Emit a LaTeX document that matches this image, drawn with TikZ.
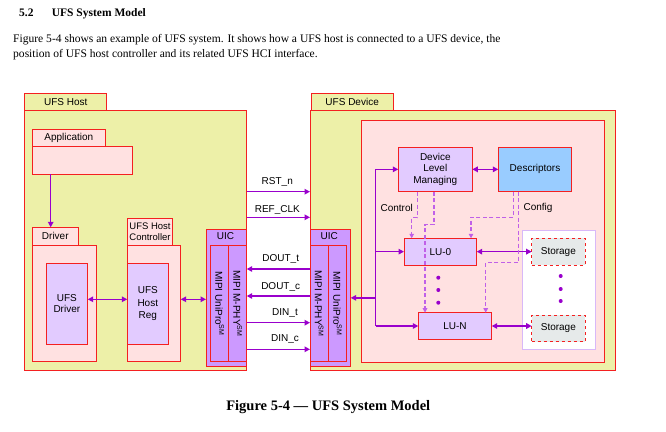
\documentclass[tikz,border=0pt]{standalone}
\usepackage{fontspec}
\setmainfont{Liberation Serif}
\setsansfont{Liberation Sans}
\usetikzlibrary{arrows.meta,calc}
\definecolor{yel}{HTML}{EDF0A8}
\definecolor{pinkb}{HTML}{FFE1E1}
\definecolor{lav}{HTML}{E2CBFF}
\definecolor{uicc}{HTML}{CC99FF}
\definecolor{descc}{HTML}{99CCFF}
\definecolor{storc}{HTML}{E6EAEA}
\definecolor{purp}{HTML}{9900CC}
\definecolor{purpL}{HTML}{C060E8}
\definecolor{redb}{HTML}{F42020}
\definecolor{panelb}{HTML}{D8B8F8}
\tikzset{
 bx/.style={draw=redb, line width=0.9pt, anchor=north west, inner sep=0pt, outer sep=0pt,
   font=\sffamily\fontsize{10}{11.5}\selectfont, align=center, text=black},
 arr/.style={draw=purp, line width=1.4pt, -{Triangle[length=5.5pt,width=5.5pt]}},
 darr/.style={draw=purp, line width=1.4pt, {Triangle[length=5.5pt,width=5.5pt]}-{Triangle[length=5.5pt,width=5.5pt]}},
 pline/.style={draw=purp, line width=1.4pt},
 dsh/.style={draw=purpL, line width=1.2pt, dash pattern=on 4pt off 2.5pt, -{Triangle[length=4.5pt,width=4.5pt]}},
 lbl/.style={font=\sffamily\fontsize{10}{11.5}\selectfont, inner sep=0pt, text=black},
 pdot/.style={circle, fill=purp, inner sep=0pt, minimum size=4pt},
}
\begin{document}
\begin{tikzpicture}[x=1pt,y=-1pt]
\useasboundingbox[fill=white] (0,0) rectangle (666,431);

% heading and text
\node[anchor=base west, font=\bfseries\fontsize{11.5}{14}\selectfont, inner sep=0pt] (h52) at (19,16.7) {5.2};
\node[anchor=base west, font=\bfseries\fontsize{11.5}{14}\selectfont, inner sep=0pt] (htitle) at (51.7,16.7) {UFS System Model};
\node[anchor=base west, font=\fontsize{11.55}{14}\selectfont, inner sep=0pt] (p1) at (13,42.7) {Figure 5-4 shows an example of UFS system. It shows how a UFS host is connected to a UFS device, the};
\node[anchor=base west, font=\fontsize{11.55}{14}\selectfont, inner sep=0pt] (p2) at (13,57.3) {position of UFS host controller and its related UFS HCI interface.};
\node[anchor=base, font=\bfseries\fontsize{14.5}{17}\selectfont, inner sep=0pt] (cap) at (328.3,410) {Figure 5-4 --- UFS System Model};

% ---------- Host ----------
\node[bx, fill=yel, minimum width=222pt, minimum height=260pt] (hmain) at (24.7,110.7) {};
\node[bx, fill=yel, minimum width=82pt, minimum height=17.4pt] (htab) at (24.7,93.3) {UFS Host};
\node[bx, fill=pinkb, minimum width=100.4pt, minimum height=27.3pt] (app) at (32.3,146.7) {};
\node[bx, fill=pinkb, minimum width=73pt, minimum height=17.4pt] (apptab) at (32.3,129.3) {Application};
\node[bx, fill=pinkb, minimum width=64pt, minimum height=116.7pt] (drv) at (32.3,245) {};
\node[bx, fill=pinkb, minimum width=46pt, minimum height=17.7pt] (drvtab) at (32.3,227.3) {Driver};
\node[bx, fill=lav, minimum width=41.7pt, minimum height=80.7pt] (ufsdrv) at (46,263.3) {UFS\\Driver};
\node[bx, fill=pinkb, minimum width=53.4pt, minimum height=116.7pt] (hc) at (127.3,245) {};
\node[bx, fill=pinkb, minimum width=45.4pt, minimum height=26.7pt, font=\sffamily\fontsize{9.5}{10.5}\selectfont] (hctab) at (127.3,218.3) {UFS Host\\Controller};
\node[bx, fill=lav, minimum width=41pt, minimum height=80.7pt, font=\sffamily\fontsize{10}{12.5}\selectfont] (hreg) at (127.3,263.3) {UFS\\Host\\Reg};
\node[bx, fill=uicc, minimum width=40.7pt, minimum height=137.7pt] (huic) at (206,229) {};
\node[lbl] (huict) at (225.5,236) {UIC};
\node[bx, fill=uicc, minimum width=18pt, minimum height=116.4pt] (hup) at (210.7,245.3) {};
\node[bx, fill=uicc, minimum width=18pt, minimum height=116.4pt] (hmp) at (228.7,245.3) {};
\node[lbl, rotate=-90] (hupt) at (hup.center) {MIPI UniPro\textsuperscript{SM}};
\node[lbl, rotate=-90] (hmpt) at (hmp.center) {MIPI M-PHY\textsuperscript{SM}};

% ---------- Device ----------
\node[bx, fill=yel, minimum width=305pt, minimum height=260pt] (dmain) at (310,110.7) {};
\node[bx, fill=yel, minimum width=82.3pt, minimum height=17.4pt] (dtab) at (311,93.3) {UFS Device};
\node[bx, fill=pinkb, minimum width=242.6pt, minimum height=242.3pt] (dinner) at (361.7,120) {};
\node[bx, fill=uicc, minimum width=40.7pt, minimum height=137.7pt] (duic) at (310,229) {};
\node[lbl] (duict) at (329.3,236) {UIC};
\node[bx, fill=uicc, minimum width=18.3pt, minimum height=116.4pt] (dmp) at (310,245.3) {};
\node[bx, fill=uicc, minimum width=18.4pt, minimum height=116.4pt] (dup) at (328.3,245.3) {};
\node[lbl, rotate=-90] (dmpt) at (dmp.center) {MIPI M-PHY\textsuperscript{SM}};
\node[lbl, rotate=-90] (dupt) at (dup.center) {MIPI UniPro\textsuperscript{SM}};

\node[bx, fill=lav, minimum width=74pt, minimum height=44.7pt, font=\sffamily\fontsize{10}{11.8}\selectfont] (dlm) at (398.3,147) {Device\\Level\\Managing};
\node[bx, fill=descc, minimum width=73.4pt, minimum height=44.7pt] (desc) at (498.3,147) {Descriptors};
\node[bx, fill=lav, minimum width=72.7pt, minimum height=26.7pt] (lu0) at (404,238.3) {LU-0};
\node[bx, fill=lav, minimum width=73.4pt, minimum height=26.6pt] (lun) at (418.3,312.7) {LU-N};
\node[bx, draw=panelb, fill=white, minimum width=73pt, minimum height=118.6pt] (panel) at (522.7,230.7) {};
\node[bx, fill=storc, dashed, minimum width=53.3pt, minimum height=26.7pt] (st1) at (531.7,238.3) {Storage};
\node[bx, fill=storc, dashed, minimum width=53.3pt, minimum height=26.7pt] (st2) at (531.7,315) {Storage};

\node[lbl] (ctrl) at (396.7,207.7) {Control};
\node[lbl] (cfg) at (538,207.7) {Config};

\node[pdot] (d1) at (438.3,277.7) {};
\node[pdot] (d2) at (438.3,290) {};
\node[pdot] (d3) at (438.3,302.7) {};
\node[pdot] (d4) at (560.7,276) {};
\node[pdot] (d5) at (560.7,289) {};
\node[pdot] (d6) at (560.7,301) {};

% ---------- Host connectors ----------
\coordinate (appx) at ($(app.south west)+(18.4,0)$);
\draw[arr] (appx) -- (appx |- drvtab.north);
\coordinate (yh) at (0,299.3);
\draw[darr] (ufsdrv.east |- yh) -- (hreg.west |- yh);
\draw[darr] (hc.east |- yh) -- (huic.west |- yh);

% ---------- Signals ----------
\coordinate (yrst) at (0,191.7);
\coordinate (yclk) at (0,217.3);
\coordinate (ydt) at (0,269);
\coordinate (ydc) at (0,296);
\coordinate (yit) at (0,322.7);
\coordinate (yic) at (0,349.3);
\draw[arr] (hmain.east |- yrst) -- (dmain.west |- yrst);
\draw[arr] (hmain.east |- yclk) -- (dmain.west |- yclk);
\draw[arr] (duic.west |- ydt) -- (huic.east |- ydt);
\draw[arr] (duic.west |- ydc) -- (huic.east |- ydc);
\draw[arr] (huic.east |- yit) -- (duic.west |- yit);
\draw[arr] (huic.east |- yic) -- (duic.west |- yic);
\node[lbl] (lrst) at (277.3,182.3) {RST\_n};
\node[lbl] (lclk) at (277.3,210.3) {REF\_CLK};
\node[lbl] (ldt) at (280.7,259.3) {DOUT\_t};
\node[lbl] (ldc) at (280.7,286.7) {DOUT\_c};
\node[lbl] (lit) at (285,312.7) {DIN\_t};
\node[lbl] (lic) at (285,339) {DIN\_c};

% ---------- Device connectors ----------
\coordinate (ctl) at (375.7,0);
\draw[pline] (ctl |- dlm.west) -- (ctl |- lun.west);
\draw[arr] (ctl |- dlm.west) -- (dlm.west);
\draw[arr] (ctl |- lu0.west) -- (lu0.west);
\draw[arr] (ctl |- lun.west) -- (lun.west);
\draw[arr] (ctl |- duic.east) -- (duic.east);
\draw[darr] (dlm.east) -- (desc.west);
\draw[darr] (lu0.east) -- (st1.west);
\draw[darr] (lun.east) -- (lun.east -| st2.west);

\draw[dsh] ($(dlm.south west)+(19,0)$) -- ++(0,26) -| ($(lu0.north west)+(7.7,0)$);
\draw[dsh] ($(dlm.south west)+(35.7,0)$) -- ++(0,32.6) -| ($(lun.north west)+(6.7,0)$);
\draw[dsh] ($(desc.south west)+(15,0)$) -- ++(0,25.6) -| ($(lu0.north east)+(-5.7,0)$);
\draw[dsh] ($(desc.south west)+(20,0)$) -- ++(0,71) -| ($(lun.north east)+(-6,0)$);
\end{tikzpicture}
\end{document}
